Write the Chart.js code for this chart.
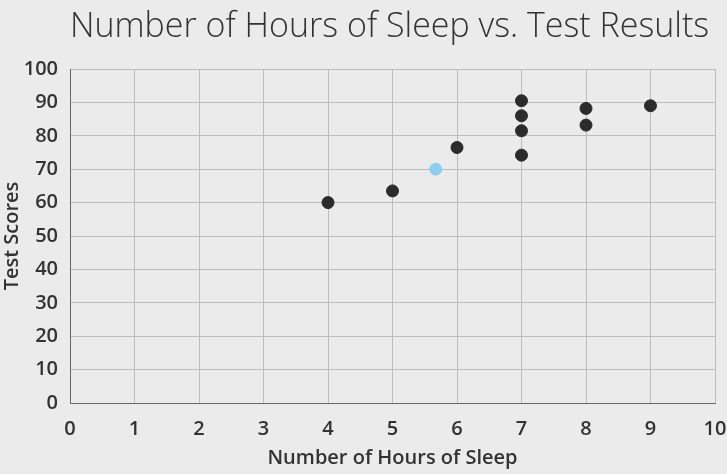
<!DOCTYPE html>
<html><head><meta charset="utf-8">
<script src="https://cdn.jsdelivr.net/npm/chart.js@4/dist/chart.umd.min.js"></script>
<style>
html,body{margin:0;padding:0;background:#ebebeb;}
#wrap{width:727px;height:474px;position:relative;}
</style></head>
<body><div id="wrap"><canvas id="c" width="727" height="474"></canvas></div>
<script>
const TITLE = "Number of Hours of Sleep vs. Test Results";
const X_TITLE = "Number of Hours of Sleep";
const Y_TITLE = "Test Scores";
const hours = [4, 5, 6, 7, 7, 7, 7, 8, 8, 9];
const scores = [60, 63.5, 76.5, 90.5, 86, 81.5, 74.2, 88.2, 83.2, 89];
const newHours = [5.67];
const newScores = [70];

const toPts = (xs, ys) => xs.map((x, i) => ({x: x, y: ys[i]}));
const ink = '#333333';
const FF = "'Open Sans', sans-serif";

const titlePlugin = {
  id: 'leftTitle',
  afterDraw(chart) {
    const ctx = chart.ctx, a = chart.chartArea;
    ctx.save();
    ctx.font = "300 34px 'Open Sans', sans-serif";
    ctx.fillStyle = ink;
    ctx.textAlign = 'left';
    ctx.textBaseline = 'alphabetic';
    ctx.fillText(TITLE, a.left, 37);
    ctx.restore();
  }
};

new Chart(document.getElementById('c'), {
  type: 'scatter',
  data: {
    datasets: [
      {data: toPts(hours, scores), backgroundColor: '#2b2b2b', borderColor: '#2b2b2b', pointRadius: 6, pointHoverRadius: 6},
      {data: toPts(newHours, newScores), backgroundColor: '#8dcdee', borderColor: '#8dcdee', pointRadius: 6, pointHoverRadius: 6}
    ]
  },
  plugins: [titlePlugin],
  options: {
    responsive: false,
    animation: false,
    layout: {padding: {left: 0, right: 0, top: 69, bottom: 0}},
    plugins: {
      legend: {display: false},
      tooltip: {enabled: false},
      title: {display: false}
    },
    scales: {
      x: {
        type: 'linear', min: 0, max: 10,
        ticks: {stepSize: 1, color: ink, font: {family: FF, size: 20, weight: '600'}, padding: 14},
        grid: {color: '#bcbcbc', lineWidth: 1, drawTicks: false},
        border: {color: '#666', width: 1},
        title: {display: true, text: X_TITLE, color: ink, font: {family: FF, size: 20, weight: '600'}, padding: {top: 0, bottom: 4}},
        afterFit: s => { s.height = 71; s.paddingRight = 12; s.paddingLeft = 0; }
      },
      y: {
        min: 0, max: 100,
        ticks: {stepSize: 10, color: ink, font: {family: FF, size: 20, weight: '600'}, padding: 12},
        grid: {color: '#bcbcbc', lineWidth: 1, drawTicks: false},
        border: {color: '#666', width: 1},
        title: {display: true, text: Y_TITLE, color: ink, font: {family: FF, size: 20, weight: '600'}, padding: {top: 0, bottom: 2}},
        afterFit: s => { s.width = 70; s.paddingTop = 0; s.paddingBottom = 0; }
      }
    }
  }
});
</script></body></html>
